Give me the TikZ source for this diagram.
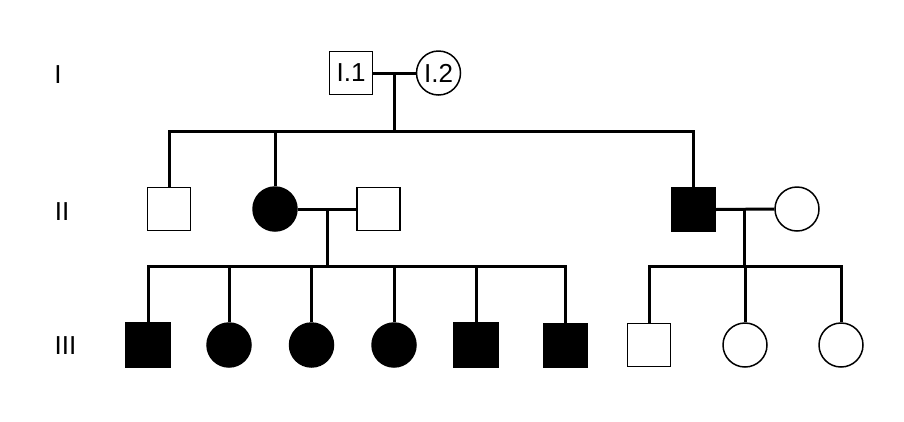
\documentclass[tikz,border=0pt]{standalone}
\usepackage{fontspec}
\setmainfont{Liberation Sans}
\begin{document}
\begin{tikzpicture}[x=1pt,y=-1pt,
  male/.style={draw, rectangle, minimum size=43pt, inner sep=0pt, line width=1.5pt, font=\fontsize{26}{30}\selectfont},
  female/.style={draw, circle, minimum size=44pt, inner sep=0pt, line width=1.5pt, font=\fontsize{26}{30}\selectfont},
  aff/.style={fill=black},
  big/.style={minimum size=45pt},
  rel/.style={line width=3pt},
  gen/.style={font=\fontsize{26}{30}\selectfont, inner sep=0pt}]
\useasboundingbox (0,0) rectangle (904,421);
\fill[white] (0,0) rectangle (904,421);
% generation labels
\node[gen] (gI) at (58,75) {I};
\node[gen] (gII) at (62,212) {II};
\node[gen] (gIII) at (65.5,346) {III};
% generation I
\node[male] (i1) at (351,73) {I.1};
\node[female] (i2) at (438.5,73) {I.2};
% generation II
\node[male] (ii1) at (169,209) {};
\node[female,aff] (ii2) at (275,209) {};
\node[male] (ii3) at (378.5,209) {};
\node[male,aff] (ii4) at (693.5,209.5) {};
\node[female] (ii5) at (797,209) {};
% generation III
\node[male,aff,big] (iii1) at (148,345) {};
\node[female,aff] (iii2) at (229,345) {};
\node[female,aff] (iii3) at (311.5,345) {};
\node[female,aff] (iii4) at (394,345) {};
\node[male,aff,big] (iii5) at (476,345) {};
\node[male,aff] (iii6) at (565.5,345.5) {};
\node[male] (iii7) at (649,345) {};
\node[female] (iii8) at (745,345) {};
\node[female] (iii9) at (841,345) {};
% couple and sibship coordinates
\coordinate (m1) at (394,73);
\coordinate (s1) at (394,131);
\coordinate (m2) at (327,209);
\coordinate (s2) at (327,266);
\coordinate (m3) at (744,209);
\coordinate (s3) at (744,266);
% generation I connectors
\draw[rel] (i1.east) -- (i2.west);
\draw[rel] (m1) -- (s1);
\draw[rel] (ii1.north) -- (ii1.north |- s1) -- (ii4.north |- s1) -- (ii4.north);
\draw[rel] (ii2.north) -- (ii2.north |- s1);
% generation II left family
\draw[rel] (ii2.east) -- (ii3.west);
\draw[rel] (m2) -- (s2);
\draw[rel] (iii1.north) -- (iii1.north |- s2) -- (iii6.north |- s2) -- (iii6.north);
\draw[rel] (iii2.north) -- (iii2.north |- s2);
\draw[rel] (iii3.north) -- (iii3.north |- s2);
\draw[rel] (iii4.north) -- (iii4.north |- s2);
\draw[rel] (iii5.north) -- (iii5.north |- s2);
% generation II right family
\draw[rel] (ii4.east) -- (ii5.west);
\draw[rel] (m3) -- (s3);
\draw[rel] (iii7.north) -- (iii7.north |- s3) -- (iii9.north |- s3) -- (iii9.north);
\draw[rel] (iii8.north) -- (iii8.north |- s3);
\end{tikzpicture}
\end{document}
